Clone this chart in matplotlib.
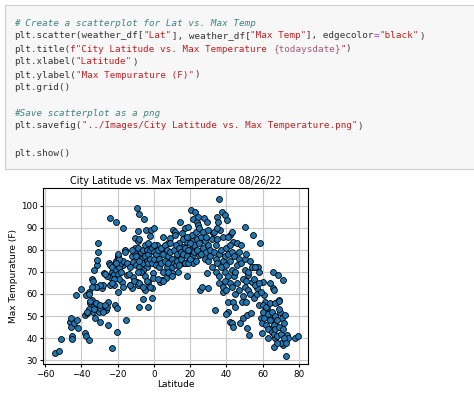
import matplotlib.pyplot as plt
from matplotlib.patches import Rectangle

# code cell lines: list of (text, colour, italic) segments
code_lines = [
    [("# Create a scatterplot for Lat vs. Max Temp", "#408080", True)],
    [("plt.scatter(weather_df[", "#333333", False), ('"Lat"', "#ba2121", False),
     ("], weather_df[", "#333333", False), ('"Max Temp"', "#ba2121", False),
     ("], edgecolor", "#333333", False), ("=", "#aa22ff", False),
     ('"black"', "#ba2121", False), (")", "#333333", False)],
    [("plt.title(", "#333333", False), ('f"City Latitude vs. Max Temperature ', "#ba2121", False),
     ("{todaysdate}", "#a45a77", False), ('"', "#ba2121", False), (")", "#333333", False)],
    [("plt.xlabel(", "#333333", False), ('"Latitude"', "#ba2121", False), (")", "#333333", False)],
    [("plt.ylabel(", "#333333", False), ('"Max Tempurature (F)"', "#ba2121", False), (")", "#333333", False)],
    [("plt.grid()", "#333333", False)],
    [],
    [("#Save scatterplot as a png", "#408080", True)],
    [("plt.savefig(", "#333333", False), ('"../Images/City Latitude vs. Max Temperature.png"', "#ba2121", False),
     (")", "#333333", False)],
    [],
    [("plt.show()", "#333333", False)],
]

# scatter data
lat = [-54.5, -52.6, -51.2, -46.2, -45.7, -45.7, -45, -45, -44, -42.5, -42, -43, -40.2,
       -38, -37.4, -35.7, -38, -36.7, -37.4, -36, -34, -33.7, -35.2, -34.3, -33.7, -35.2,
       -33.4, -32.4, -31.9, -31.2, -31.5, -31.2, -31, -30.6, -31.5, -30.2, -29.7, -28.8,
       -29.7, -27.8, -26.4, -25.1, -26.0, -25.6, -24.2, -24.2, -23.3, -22.3, -23.3, -22.3,
       -21.4, -20.5, -20.9, -20.5, -19.6, -20.5, -19.6, -18.7, -17.7, -17.2, -15.9, -15.4,
       -16.8, -15, -13.2, -12.2, -11.3, -11.3, -10.4, -9.5, -9.1, -8.5, -8.9, -8.4, -10.4,
       -7.9, -7.6, -5.8, -5.4, -5.3, -4.3, -3.4, -3.0, -2.5, -2.1, -1.8, -1.2, -0.8, -0.3,
       0.1, -0.7,
       -25, -24, -23, -22, -21, -21, -20, -20, -19, -19, -18, -18, -17, -16, -22, -26, -27,
       -28, -30, -32, -33, -34, -36, -35, -36, -37, -33, -32, -30, -28, -27, -24, -23, -19,
       -20, -21, -17, -12, -11, -10, -10, -9, -9, -8, -8, -7, -7, -6, -6, -5, -5, -4, -4,
       -4, -3, -3, -3, -2, -2, -1, -1, 0, 0, -6, -7, -8, -5, -4, -2, -5, -9, -11, -13, -14,
       -15, -13, -12, -8, -6, -9,
       1.5, 2.5, 3.4, 4.3, 5.2, 6.1, 7, 6.7, 8, 8.9, 9.8, 10.4, 10.7, 11.6, 11.6, 12.6,
       13.5, 13.9, 14.4, 15.3, 15.9, 16.2, 17.2, 17.7, 18.1, 18.4, 19, 19.9, 20.5, 21.4,
       20.8, 21.8, 22.7, 23.6, 24.5, 24.9, 25.4, 26.3, 27.6, 29.1, 24.5, 29.1, 30, 32.8,
       33.7, 34.6, 35.5, 36.1, 37.4, 38.3, 36.4, 39.2, 40.1, 41, 41, 42, 42.9, 43.8, 43.8,
       44.7, 42, 42.9, 43.8, 45.6, 47.1, 47.5, 48.4, 49.3, 50.2, 50.8, 51.2, 51.5, 52.1,
       52.6, 53.4, 53.9, 54.8, 56, 56.7, 57.6, 58.1, 58.5, 58.9, 59.4, 59.4, 60.3, 60.7,
       61.3, 62.2, 63.1, 64, 64.9, 65.5, 65.8, 66.8, 66.2, 66.8, 67.7, 68.6, 69.2, 69.5,
       70.4, 71, 71.4, 71.7, 72.3, 72.8, 73.2, 74.1, 77.8, 79.3,
       20, 21, 21, 22, 22, 23, 23, 24, 24, 25, 25, 26, 26, 27, 27, 28, 28, 29, 29, 30, 30,
       30, 31, 31, 32, 32, 33, 33, 34, 34, 34, 35, 35, 35, 36, 36, 36, 37, 37, 38, 38, 38,
       39, 39, 39, 40, 40, 40, 40, 41, 41, 41, 42, 42, 42, 43, 43, 43, 44, 44, 45, 45, 46,
       46, 47, 47, 48, 48, 49, 49, 50, 50, 50, 51, 51, 52, 52, 53, 53, 54, 55, 55, 56, 56,
       57, 58, 58, 59, 60, 60, 61, 62, 62, 63, 63, 64, 64, 65, 65, 66, 66, 67, 67, 68, 68,
       69, 69, 70, 70, 71, 72, 73, 68, 67, 69, 64, 66,
       0, 1, 1, 2, 3, 3, 4, 4, 5, 5, 6, 6, 7, 7, 8, 8, 9, 9, 10, 10, 11, 11, 12, 12, 13, 13,
       14, 14, 15, 15, 16, 16, 17, 17, 18, 18, 19, 19, 20, 20, 5, 2, 8, 10, 18]

max_temp = [33.5, 34.2, 39.5, 47.5, 49, 45.2, 41, 39.6, 46.7, 48, 44.5, 59.6, 62.1,
            42.2, 41, 39.2, 50.5, 51.3, 59.6, 61, 67, 66, 55.8, 57.3, 54.3, 52.8,
            52, 49, 55.8, 63.3, 73.1, 75.4, 78.9, 83, 54.7, 52, 47.5, 62.9,
            53.5, 69.4, 52.9, 46, 54.3, 56.6, 67.9, 94.3, 35.4, 73.1, 70.1, 64.1,
            55, 53.5, 92.8, 43, 61, 75.4, 76.9, 70.1, 65.6, 89.7, 79.9, 48.3,
            73.1, 68.6, 64.1, 62.6, 67.9, 74.7, 80.7, 65.6, 98.8, 96.1, 88.7, 54.3, 85.2,
            77.7, 64.1, 57.8, 62.6, 93.8, 89, 54.3, 65.6, 79.2, 86.3, 89, 62.6, 58.4, 69.4,
            89.7, 67.1,
            74, 73, 72, 69, 71, 75, 77, 69, 72, 67, 74, 70, 75, 79, 67, 68, 69,
            64, 64, 63, 71, 63, 60, 57, 53, 52, 53, 56, 55, 52, 55, 64, 65, 76,
            78, 74, 63, 77, 79, 73, 77, 81, 84, 85, 72, 79, 76, 74, 80, 77, 82, 75, 72,
            80, 78, 74, 83, 80, 76, 81, 74, 79, 76, 71, 70, 75, 68, 66, 63, 62, 64, 66, 64, 69,
            74, 72, 80, 65, 63, 70,
            82.2, 74.7, 65.6, 66.4, 86, 79.2, 75.4, 67.1, 83, 85.2, 69.4, 74.7, 89, 88.2, 86.7, 76.9,
            70.1, 83, 92.8, 87.5, 81.4, 73.9, 89.7, 79.2, 83.7, 73.9, 90.5, 76.2, 98, 93.8,
            86.7, 73.9, 97.3, 92.8, 95, 77.7, 61.8, 63.3, 94.3, 92.8, 91.3, 69.4, 62.6, 87.5,
            52.8, 95, 92.8, 103, 97.3, 61, 89, 95.8, 93.5, 52, 56.6, 47.5, 46.7, 45.2, 56.6,
            54.3, 86.7, 88.2, 83.7, 83, 79.2, 46.7, 56.6, 49, 90.5, 56.6, 44.5, 50.5, 68.6,
            41.5, 51.3, 65.6, 86.7, 72.4, 62.6, 72.4, 70.1, 83, 49, 46.7, 42.2, 65.6, 59.6,
            56.6, 53.5, 40, 50.5, 44.5, 62.6, 70.1, 47.5, 36.2, 40, 56.6, 68.6, 57.3, 52,
            49, 66.4, 36.9, 46.7, 50.5, 31.7, 41.5, 40, 40, 41,
            80, 77, 84, 82, 79, 88, 75, 85, 80, 90, 83, 78, 86, 81, 88, 76, 84, 79, 86, 89, 82,
            75, 80, 77, 85, 72, 79, 88, 76, 82, 70, 74, 85, 90, 78, 68, 65, 80, 72, 75, 86, 63,
            77, 70, 66, 81, 73, 62, 51, 86, 78, 68, 75, 65, 82, 71, 63, 79, 77, 68, 70, 60, 73,
            65, 76, 62, 74, 82, 67, 59, 76, 63, 71, 66, 78, 62, 70, 75, 60, 72, 67, 58, 64, 72,
            60, 65, 55, 61, 55, 52, 49, 54, 46, 51, 44, 48, 56, 43, 52, 46, 42, 50, 44, 48, 41,
            45, 53, 42, 38, 44, 40, 38, 38, 56, 57, 65, 62,
            82, 78, 73, 80, 76, 72, 81, 74, 78, 70, 82, 75, 80, 72, 77, 74, 79, 83, 76, 72, 80, 74,
            73, 82, 78, 75, 81, 73, 79, 76, 85, 78, 74, 81, 77, 86, 80, 74, 76, 83, 66, 67, 70, 68, 68]

W, H = 474, 397
fig = plt.figure(figsize=(W / 100, H / 100), dpi=100)
fig.patch.set_facecolor("white")

# code cell background
fig.patches.append(Rectangle((5 / W, 1 - 169 / H), 470 / W, 164 / H, transform=fig.transFigure,
                             facecolor="#f7f7f7", edgecolor="#cfcfcf", linewidth=0.8))

fs = 6.7
mono = "DejaVu Sans Mono"
# measure the real advance of one character so the coloured pieces line up
renderer = fig.canvas.get_renderer()
probe = fig.text(0, 0, "x" * 60, fontsize=fs, family=mono)
cw = probe.get_window_extent(renderer).width / 60
probe.remove()

line_y = [23, 36, 49, 62, 75, 88, 101, 114, 126, 139, 153]
for y, segs in zip(line_y, code_lines):
    col = 0
    for txt, c, it in segs:
        fig.text((14 + col * cw) / W, 1 - y / H, txt, color=c, fontsize=fs,
                 family=mono, style="italic" if it else "normal", va="center")
        col += len(txt)

ax = fig.add_axes([43 / W, 1 - 364 / H, 265 / W, 176 / H])
ax.scatter(lat, max_temp, s=18, c="#1f77b4", edgecolors="black", linewidths=0.6, zorder=3)
ax.set_title("City Latitude vs. Max Temperature 08/26/22", fontsize=6.9, pad=3)
ax.set_xlabel("Latitude", fontsize=6.5, labelpad=1)
ax.set_ylabel("Max Tempurature (F)", fontsize=6.5, labelpad=2)
ax.set_xlim(-61.2, 85)
ax.set_ylim(28.3, 108)
ax.set_xticks(range(-60, 81, 20))
ax.set_yticks(range(30, 101, 10))
ax.tick_params(labelsize=6.3, length=2.5, pad=1.5)
ax.grid(color="#c8c8c8", linewidth=0.8, zorder=0)
ax.set_axisbelow(True)

fig.savefig("out.png", dpi=100)
